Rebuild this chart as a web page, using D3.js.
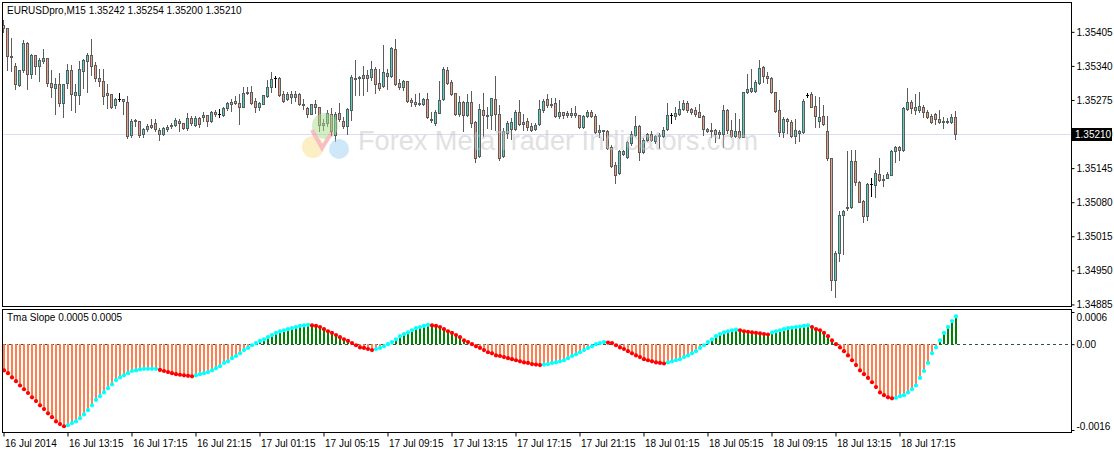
<!DOCTYPE html>
<html lang="en">
<head>
<meta charset="utf-8">
<title>EURUSDpro,M15 - Tma Slope</title>
<script src="https://cdn.jsdelivr.net/npm/d3@7"></script>
<style>
    body { margin: 0; background: #ffffff; }
    svg { display: block; }
    text { font-family: "Liberation Sans", Arial, sans-serif; }
</style>
</head>
<body>
<script>

// M15 bars, 16 Jul 2014 09:15 .. 18 Jul 2014 20:45
var opens = [
1.35418,1.35412,1.35359,1.35340,1.35304,1.35332,1.35383,1.35324,1.35360,1.35340,
1.35350,1.35356,1.35307,1.35297,1.35306,1.35269,1.35307,1.35332,1.35285,1.35284,
1.35331,1.35350,1.35360,1.35342,1.35317,1.35312,1.35288,1.35287,1.35265,1.35276,
1.35276,1.35272,1.35208,1.35236,1.35234,1.35210,1.35219,1.35227,1.35231,1.35218,
1.35210,1.35220,1.35225,1.35227,1.35235,1.35231,1.35221,1.35240,1.35227,1.35240,
1.35243,1.35246,1.35234,1.35253,1.35248,1.35246,1.35260,1.35268,1.35274,1.35269,
1.35262,1.35288,1.35290,1.35273,1.35262,1.35268,1.35283,1.35299,1.35316,1.35316,
1.35287,1.35276,1.35286,1.35280,1.35287,1.35268,1.35260,1.35249,1.35267,1.35261,
1.35227,1.35231,1.35248,1.35208,1.35250,1.35235,1.35226,1.35255,1.35315,1.35317,
1.35316,1.35322,1.35318,1.35334,1.35307,1.35301,1.35321,1.35321,1.35372,1.35307,
1.35299,1.35312,1.35275,1.35271,1.35269,1.35267,1.35276,1.35239,1.35231,1.35251,
1.35276,1.35332,1.35309,1.35288,1.35249,1.35271,1.35246,1.35271,1.35233,1.35168,
1.35255,1.35247,1.35246,1.35276,1.35248,1.35168,1.35212,1.35219,1.35219,1.35252,
1.35229,1.35234,1.35225,1.35219,1.35229,1.35255,1.35276,1.35268,1.35269,1.35244,
1.35252,1.35246,1.35250,1.35246,1.35246,1.35224,1.35245,1.35252,1.35244,1.35213,
1.35217,1.35215,1.35185,1.35151,1.35135,1.35172,1.35167,1.35192,1.35208,1.35225,
1.35175,1.35198,1.35210,1.35196,1.35206,1.35207,1.35219,1.35246,1.35244,1.35248,
1.35257,1.35269,1.35257,1.35256,1.35252,1.35245,1.35219,1.35217,1.35218,1.35210,
1.35211,1.35255,1.35218,1.35207,1.35216,1.35205,1.35290,1.35292,1.35293,1.35307,
1.35337,1.35320,1.35316,1.35290,1.35256,1.35213,1.35239,1.35233,1.35206,1.35212,
1.35213,1.35285,1.35286,1.35264,1.35234,1.35245,1.35215,1.35164,1.34932,1.34984,
1.35056,1.35068,1.35070,1.35159,1.35119,1.35083,1.35053,1.35114,1.35112,1.35133,
1.35124,1.35127,1.35132,1.35177,1.35185,1.35179,1.35258,1.35271,1.35262,1.35255,
1.35261,1.35252,1.35245,1.35249,1.35238,1.35235,1.35233,1.35233,1.35242
];
var highs = [
1.35427,1.35413,1.35394,1.35345,1.35333,1.35389,1.35386,1.35363,1.35360,1.35356,
1.35372,1.35356,1.35332,1.35316,1.35326,1.35306,1.35343,1.35342,1.35305,1.35349,
1.35354,1.35365,1.35391,1.35348,1.35335,1.35335,1.35306,1.35287,1.35278,1.35288,
1.35277,1.35282,1.35238,1.35238,1.35234,1.35222,1.35230,1.35238,1.35238,1.35222,
1.35224,1.35227,1.35231,1.35240,1.35239,1.35232,1.35250,1.35245,1.35244,1.35243,
1.35252,1.35246,1.35254,1.35255,1.35257,1.35262,1.35272,1.35277,1.35283,1.35286,
1.35299,1.35299,1.35302,1.35278,1.35272,1.35285,1.35314,1.35328,1.35320,1.35318,
1.35292,1.35291,1.35292,1.35292,1.35288,1.35277,1.35262,1.35268,1.35275,1.35262,
1.35239,1.35256,1.35259,1.35253,1.35269,1.35243,1.35259,1.35323,1.35351,1.35321,
1.35339,1.35333,1.35349,1.35337,1.35335,1.35380,1.35335,1.35377,1.35392,1.35315,
1.35313,1.35312,1.35278,1.35286,1.35288,1.35278,1.35288,1.35253,1.35256,1.35311,
1.35337,1.35337,1.35313,1.35288,1.35283,1.35273,1.35286,1.35292,1.35235,1.35267,
1.35288,1.35262,1.35279,1.35321,1.35266,1.35221,1.35235,1.35240,1.35255,1.35275,
1.35248,1.35240,1.35231,1.35231,1.35275,1.35276,1.35287,1.35278,1.35278,1.35275,
1.35253,1.35254,1.35259,1.35264,1.35247,1.35247,1.35255,1.35255,1.35248,1.35227,
1.35218,1.35218,1.35189,1.35156,1.35180,1.35180,1.35197,1.35215,1.35245,1.35227,
1.35202,1.35212,1.35215,1.35208,1.35212,1.35223,1.35269,1.35251,1.35261,1.35274,
1.35275,1.35274,1.35259,1.35262,1.35267,1.35246,1.35221,1.35231,1.35219,1.35218,
1.35266,1.35257,1.35237,1.35250,1.35239,1.35291,1.35324,1.35334,1.35313,1.35351,
1.35339,1.35329,1.35318,1.35291,1.35275,1.35242,1.35240,1.35236,1.35238,1.35218,
1.35276,1.35289,1.35291,1.35283,1.35280,1.35266,1.35245,1.35165,1.34986,1.35064,
1.35065,1.35178,1.35180,1.35180,1.35121,1.35084,1.35116,1.35126,1.35142,1.35164,
1.35132,1.35137,1.35180,1.35188,1.35188,1.35261,1.35297,1.35275,1.35287,1.35290,
1.35266,1.35256,1.35248,1.35251,1.35256,1.35243,1.35240,1.35248,1.35254
];
var lows = [
1.35404,1.35332,1.35331,1.35295,1.35302,1.35329,1.35295,1.35316,1.35324,1.35311,
1.35345,1.35302,1.35281,1.35248,1.35264,1.35243,1.35297,1.35255,1.35253,1.35267,
1.35297,1.35291,1.35322,1.35312,1.35302,1.35267,1.35260,1.35260,1.35260,1.35273,
1.35248,1.35203,1.35205,1.35225,1.35205,1.35205,1.35216,1.35221,1.35215,1.35198,
1.35209,1.35216,1.35221,1.35226,1.35216,1.35219,1.35218,1.35227,1.35226,1.35224,
1.35235,1.35226,1.35233,1.35245,1.35243,1.35245,1.35255,1.35254,1.35268,1.35230,
1.35261,1.35287,1.35267,1.35253,1.35255,1.35267,1.35281,1.35291,1.35299,1.35283,
1.35272,1.35275,1.35270,1.35273,1.35266,1.35257,1.35243,1.35248,1.35250,1.35216,
1.35218,1.35226,1.35208,1.35197,1.35234,1.35221,1.35210,1.35237,1.35285,1.35285,
1.35285,1.35292,1.35314,1.35289,1.35294,1.35300,1.35296,1.35319,1.35304,1.35296,
1.35294,1.35271,1.35264,1.35263,1.35266,1.35266,1.35241,1.35233,1.35227,1.35250,
1.35275,1.35306,1.35285,1.35246,1.35245,1.35215,1.35245,1.35224,1.35156,1.35167,
1.35206,1.35221,1.35220,1.35218,1.35161,1.35167,1.35203,1.35201,1.35218,1.35227,
1.35218,1.35218,1.35216,1.35218,1.35227,1.35253,1.35262,1.35262,1.35243,1.35241,
1.35241,1.35243,1.35242,1.35243,1.35221,1.35222,1.35243,1.35242,1.35212,1.35205,
1.35199,1.35182,1.35148,1.35116,1.35134,1.35170,1.35165,1.35190,1.35207,1.35161,
1.35173,1.35197,1.35196,1.35192,1.35183,1.35205,1.35218,1.35232,1.35238,1.35246,
1.35255,1.35253,1.35248,1.35245,1.35242,1.35208,1.35213,1.35205,1.35194,1.35202,
1.35186,1.35212,1.35205,1.35204,1.35202,1.35204,1.35288,1.35290,1.35291,1.35306,
1.35310,1.35307,1.35288,1.35253,1.35206,1.35205,1.35212,1.35205,1.35192,1.35197,
1.35212,1.35280,1.35261,1.35223,1.35224,1.35227,1.35160,1.34912,1.34900,1.34967,
1.34981,1.35065,1.35069,1.35113,1.35080,1.35043,1.35046,1.35091,1.35089,1.35121,
1.35110,1.35126,1.35131,1.35156,1.35161,1.35178,1.35256,1.35250,1.35248,1.35253,
1.35243,1.35241,1.35231,1.35229,1.35231,1.35222,1.35231,1.35231,1.35200
];
var closes = [
1.35412,1.35359,1.35358,1.35305,1.35333,1.35383,1.35324,1.35361,1.35340,1.35351,
1.35356,1.35308,1.35300,1.35306,1.35269,1.35306,1.35332,1.35286,1.35290,1.35334,
1.35351,1.35361,1.35339,1.35316,1.35312,1.35282,1.35285,1.35262,1.35276,1.35276,
1.35274,1.35207,1.35234,1.35234,1.35208,1.35219,1.35225,1.35224,1.35219,1.35210,
1.35221,1.35224,1.35227,1.35236,1.35231,1.35221,1.35240,1.35231,1.35241,1.35229,
1.35246,1.35234,1.35253,1.35248,1.35248,1.35259,1.35269,1.35272,1.35270,1.35262,
1.35288,1.35290,1.35269,1.35262,1.35269,1.35284,1.35300,1.35315,1.35316,1.35285,
1.35274,1.35286,1.35280,1.35286,1.35267,1.35266,1.35249,1.35267,1.35261,1.35227,
1.35231,1.35250,1.35215,1.35248,1.35238,1.35226,1.35257,1.35319,1.35317,1.35319,
1.35322,1.35316,1.35334,1.35306,1.35297,1.35328,1.35326,1.35374,1.35306,1.35300,
1.35311,1.35274,1.35272,1.35267,1.35267,1.35276,1.35243,1.35236,1.35252,1.35275,
1.35334,1.35308,1.35287,1.35249,1.35272,1.35246,1.35272,1.35231,1.35165,1.35257,
1.35246,1.35246,1.35278,1.35248,1.35165,1.35215,1.35231,1.35233,1.35252,1.35229,
1.35233,1.35223,1.35217,1.35227,1.35257,1.35274,1.35265,1.35266,1.35245,1.35253,
1.35246,1.35251,1.35246,1.35250,1.35224,1.35245,1.35252,1.35244,1.35213,1.35218,
1.35215,1.35183,1.35150,1.35132,1.35178,1.35178,1.35195,1.35211,1.35225,1.35175,
1.35198,1.35210,1.35198,1.35206,1.35208,1.35217,1.35246,1.35246,1.35250,1.35257,
1.35269,1.35256,1.35253,1.35249,1.35243,1.35219,1.35215,1.35215,1.35210,1.35213,
1.35255,1.35218,1.35207,1.35215,1.35204,1.35290,1.35295,1.35297,1.35309,1.35336,
1.35320,1.35316,1.35291,1.35254,1.35213,1.35239,1.35234,1.35207,1.35218,1.35216,
1.35274,1.35285,1.35262,1.35245,1.35243,1.35230,1.35164,1.34932,1.34983,1.35055,
1.35063,1.35071,1.35159,1.35119,1.35081,1.35053,1.35114,1.35114,1.35135,1.35122,
1.35123,1.35133,1.35178,1.35186,1.35179,1.35259,1.35271,1.35259,1.35255,1.35264,
1.35253,1.35243,1.35233,1.35238,1.35233,1.35233,1.35235,1.35243,1.35210
];

// Tma Slope, one value per bar
var tmaSlope = [
-0.00049,-0.00054,-0.00062,-0.00069,-0.00077,-0.00084,-0.00091,-0.00099,-0.00106,-0.00114,
-0.00121,-0.00129,-0.00136,-0.00144,-0.00149,-0.00153,-0.00151,-0.00147,-0.00144,-0.00138,
-0.00131,-0.00123,-0.00114,-0.00104,-0.00097,-0.00090,-0.00082,-0.00075,-0.00067,-0.00062,
-0.00058,-0.00054,-0.00050,-0.00049,-0.00047,-0.00046,-0.00046,-0.00046,-0.00046,-0.00048,
-0.00050,-0.00052,-0.00054,-0.00056,-0.00057,-0.00058,-0.00059,-0.00060,-0.00058,-0.00056,
-0.00054,-0.00052,-0.00049,-0.00045,-0.00041,-0.00035,-0.00032,-0.00026,-0.00022,-0.00017,
-0.00011,-0.00007,-0.00002,0.00002,0.00006,0.00009,0.00013,0.00017,0.00021,0.00024,
0.00026,0.00028,0.00030,0.00032,0.00034,0.00035,0.00036,0.00035,0.00034,0.00032,
0.00028,0.00024,0.00021,0.00017,0.00013,0.00009,0.00006,0.00002,-0.00002,-0.00006,
-0.00007,-0.00009,-0.00011,-0.00009,-0.00007,-0.00004,0.00000,0.00004,0.00009,0.00015,
0.00019,0.00022,0.00026,0.00030,0.00032,0.00034,0.00036,0.00035,0.00034,0.00032,
0.00028,0.00024,0.00021,0.00017,0.00013,0.00007,0.00004,0.00000,-0.00004,-0.00007,
-0.00011,-0.00015,-0.00017,-0.00021,-0.00022,-0.00024,-0.00026,-0.00028,-0.00030,-0.00032,
-0.00034,-0.00035,-0.00037,-0.00038,-0.00039,-0.00038,-0.00037,-0.00035,-0.00034,-0.00032,
-0.00030,-0.00026,-0.00022,-0.00019,-0.00015,-0.00011,-0.00007,-0.00004,0.00000,0.00002,
0.00004,0.00003,0.00002,-0.00002,-0.00006,-0.00009,-0.00013,-0.00017,-0.00021,-0.00024,
-0.00028,-0.00030,-0.00032,-0.00034,-0.00035,-0.00036,-0.00034,-0.00032,-0.00030,-0.00028,
-0.00024,-0.00021,-0.00017,-0.00013,-0.00007,-0.00002,0.00004,0.00009,0.00015,0.00019,
0.00022,0.00024,0.00026,0.00027,0.00026,0.00024,0.00023,0.00022,0.00021,0.00020,
0.00019,0.00018,0.00022,0.00024,0.00026,0.00028,0.00030,0.00031,0.00032,0.00033,
0.00034,0.00035,0.00032,0.00028,0.00026,0.00021,0.00015,0.00007,0.00000,-0.00006,
-0.00013,-0.00021,-0.00030,-0.00039,-0.00049,-0.00056,-0.00063,-0.00071,-0.00080,-0.00090,
-0.00095,-0.00099,-0.00101,-0.00100,-0.00097,-0.00095,-0.00090,-0.00084,-0.00077,-0.00063,
-0.00050,-0.00035,-0.00017,-0.00006,0.00007,0.00021,0.00032,0.00043,0.00052
];

var timeLabels = ["16 Jul 2014", "16 Jul 13:15", "16 Jul 17:15", "16 Jul 21:15", "17 Jul 01:15",
    "17 Jul 05:15", "17 Jul 09:15", "17 Jul 13:15", "17 Jul 17:15", "17 Jul 21:15",
    "18 Jul 01:15", "18 Jul 05:15", "18 Jul 09:15", "18 Jul 13:15", "18 Jul 17:15"];
var timeLabelBars = [0, 16, 32, 48, 64, 80, 96, 112, 128, 144, 160, 176, 192, 208, 224];
var priceTicks = [1.34885, 1.34950, 1.35015, 1.35080, 1.35145, 1.35210, 1.35275, 1.35340, 1.35405];
var slopeTicks = [0.0006, 0, -0.0016];
var slopeTickLabels = ["0.0006", "0.00", "-0.0016"];

var symbolTitle = "EURUSDpro,M15  1.35242 1.35254 1.35200 1.35210";
var indicatorTitle = "Tma Slope 0.0005 0.0005";
var lastPrice = 1.35210;

var w = 1114, h = 451;
var left = 3, right = 1071;
var mainTop = 3, mainBottom = 306;
var indTop = 310, indBottom = 432;

var svg = d3.select("body").append("svg")
    .attr("width", w)
    .attr("height", h);

var n = closes.length;
var x = d3.scaleLinear().domain([0, n - 1]).range([3, 3 + 4 * (n - 1)]);
var y = d3.scaleLinear().domain([1.34882, 1.35460]).range([mainBottom, mainTop]);
var yInd = d3.scaleLinear().domain([-0.0016, 0.0006]).range([indBottom - 2, indTop + 2]);

// current price line
svg.append("line")
    .attr("x1", left).attr("x2", right)
    .attr("y1", Math.round(y(lastPrice)) + 0.5).attr("y2", Math.round(y(lastPrice)) + 0.5)
    .attr("stroke", "#dcdcf4");

// candles
var bars = d3.range(n);
var candle = svg.append("g").selectAll("g")
    .data(bars)
    .enter().append("g");

candle.append("line")
    .attr("x1", function(i) { return x(i) + 0.5; })
    .attr("x2", function(i) { return x(i) + 0.5; })
    .attr("y1", function(i) { return Math.round(y(highs[i])); })
    .attr("y2", function(i) { return Math.round(y(lows[i])) + 1; })
    .attr("stroke", function(i) { return opens[i] == closes[i] ? "#000000" : "#5c5c5c"; });

candle.filter(function(i) { return opens[i] != closes[i]; })
    .append("rect")
    .attr("x", function(i) { return x(i) - 0.5; })
    .attr("width", 2)
    .attr("y", function(i) { return Math.round(y(Math.max(opens[i], closes[i]))) + 0.5; })
    .attr("height", function(i) { return Math.max(1, Math.round(y(Math.min(opens[i], closes[i]))) - Math.round(y(Math.max(opens[i], closes[i])))); })
    .attr("fill", function(i) { return closes[i] > opens[i] ? "#4fd3c4" : "#eb9f80"; })
    .attr("stroke", "#5c5c5c");

candle.filter(function(i) { return opens[i] == closes[i]; })
    .append("line")
    .attr("x1", function(i) { return x(i) - 1; })
    .attr("x2", function(i) { return x(i) + 2; })
    .attr("y1", function(i) { return Math.round(y(opens[i])) + 0.5; })
    .attr("y2", function(i) { return Math.round(y(opens[i])) + 0.5; })
    .attr("stroke", "#000000");

// indicator: zero line, histogram, dots
svg.append("line")
    .attr("x1", left).attr("x2", right)
    .attr("y1", Math.round(yInd(0)) + 0.5).attr("y2", Math.round(yInd(0)) + 0.5)
    .attr("stroke", "#2f4f4f")
    .attr("stroke-dasharray", "3,3");

svg.append("g").selectAll("rect")
    .data(bars.filter(function(i) { return tmaSlope[i] != 0; }))
    .enter().append("rect")
    .attr("x", function(i) { return x(i); })
    .attr("width", 2)
    .attr("y", function(i) { return Math.min(yInd(0), yInd(tmaSlope[i])); })
    .attr("height", function(i) { return Math.abs(yInd(tmaSlope[i]) - yInd(0)); })
    .attr("fill", function(i) { return tmaSlope[i] > 0 ? "#008000" : "#ff7f50"; });

var dotColor = [];
for (var i = 0; i < n; i++) {
    if (i == 0) dotColor.push("#ff0000");
    else if (tmaSlope[i] > tmaSlope[i - 1]) dotColor.push("#00ffff");
    else if (tmaSlope[i] < tmaSlope[i - 1]) dotColor.push("#ff0000");
    else dotColor.push(dotColor[i - 1]);
}

svg.append("g").selectAll("circle")
    .data(bars)
    .enter().append("circle")
    .attr("cx", function(i) { return x(i) + 1; })
    .attr("cy", function(i) { return yInd(tmaSlope[i]); })
    .attr("r", 2.1)
    .attr("fill", function(i) { return dotColor[i]; });

// watermark
var wm = svg.append("g").attr("opacity", 0.5);
wm.append("circle").attr("cx", 325).attr("cy", 126).attr("r", 13).attr("fill", "#a8dc8c");
wm.append("circle").attr("cx", 313).attr("cy", 147).attr("r", 11).attr("fill", "#fbe08a");
wm.append("circle").attr("cx", 339).attr("cy", 149).attr("r", 10).attr("fill", "#9fd0f4");
wm.append("path").attr("d", "M312,130 L322,148 L332,132").attr("fill", "none")
    .attr("stroke", "#f08080").attr("stroke-width", 4);
wm.append("text")
    .attr("x", 358).attr("y", 150)
    .attr("font-size", 27)
    .attr("font-family", "Lato, 'Open Sans', sans-serif")
    .attr("font-weight", 300)
    .attr("textLength", 400)
    .attr("lengthAdjust", "spacingAndGlyphs")
    .attr("fill", "#c4c4c4")
    .text("Forex MetaTrader Indicators.com");

// frames
svg.append("rect")
    .attr("x", 2.5).attr("y", 2.5)
    .attr("width", right - 2).attr("height", mainBottom - 2)
    .attr("fill", "none").attr("stroke", "#000000");
svg.append("rect")
    .attr("x", 2.5).attr("y", indTop - 0.5)
    .attr("width", right - 2).attr("height", indBottom - indTop + 1)
    .attr("fill", "none").attr("stroke", "#000000");

// price axis
var priceAxis = d3.axisRight(y)
    .tickValues(priceTicks)
    .tickSize(3)
    .tickPadding(2)
    .tickFormat(d3.format(".5f"));
var gPrice = svg.append("g")
    .attr("transform", "translate(" + (right + 0.5) + ",0)")
    .call(priceAxis);
gPrice.select(".domain").remove();
gPrice.selectAll("text").attr("font-size", 10).attr("font-family", "'Liberation Sans', Arial, sans-serif").attr("fill", "#000");

// last price box
svg.append("rect")
    .attr("x", right + 1).attr("y", Math.round(y(lastPrice)) - 6)
    .attr("width", 40).attr("height", 13)
    .attr("fill", "#000000");
svg.append("text")
    .attr("x", right + 4).attr("y", Math.round(y(lastPrice)) + 4)
    .attr("font-size", 10)
    .attr("fill", "#ffffff")
    .text(d3.format(".5f")(lastPrice));

// indicator axis: top and bottom labels sit inside the window edges
var indAxis = d3.axisRight(yInd)
    .tickValues(slopeTicks)
    .tickSize(3)
    .tickPadding(2)
    .tickFormat(function(d, i) { return slopeTickLabels[i]; });
var gInd = svg.append("g")
    .attr("transform", "translate(" + (right + 0.5) + ",0)")
    .call(indAxis);
gInd.select(".domain").remove();
gInd.selectAll("text")
    .attr("font-size", 10)
    .attr("font-family", "'Liberation Sans', Arial, sans-serif")
    .attr("fill", "#000")
    .attr("y", function(d) { return d > 0 ? 5 : (d < 0 ? -4 : 0); });

// time axis
var timeAxis = d3.axisBottom(x)
    .tickValues(timeLabelBars)
    .tickSize(4)
    .tickFormat(function(d, i) { return timeLabels[i]; });
var gTime = svg.append("g")
    .attr("transform", "translate(0.5," + (indBottom + 0.5) + ")")
    .call(timeAxis);
gTime.select(".domain").remove();
gTime.selectAll("text")
    .attr("text-anchor", "start")
    .attr("x", 1)
    .attr("font-size", 10)
    .attr("font-family", "'Liberation Sans', Arial, sans-serif")
    .attr("fill", "#000");

// titles
svg.append("text")
    .attr("x", 7).attr("y", 14)
    .attr("font-size", 10)
    .text(symbolTitle);
svg.append("text")
    .attr("x", 7).attr("y", 321)
    .attr("font-size", 10)
    .text(indicatorTitle);

</script>
</body>
</html>
